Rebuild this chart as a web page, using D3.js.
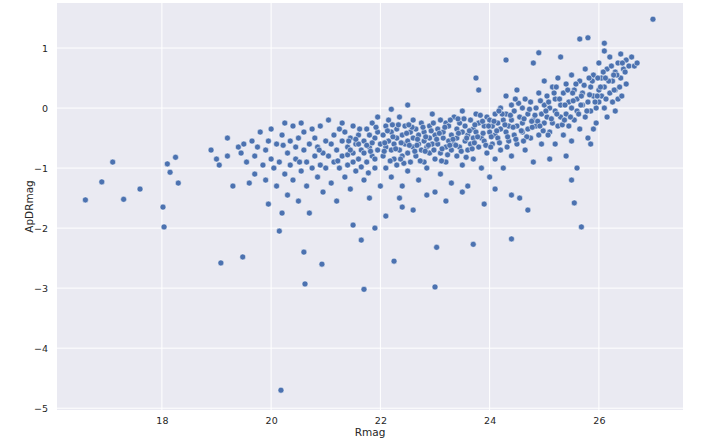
<!DOCTYPE html>
<html><head><meta charset="utf-8">
<script src="https://cdn.jsdelivr.net/npm/d3@7"></script>
<style>body{margin:0;background:#fff;font-family:"DejaVu Sans",sans-serif}</style>
</head><body><svg id="c" width="703" height="442"></svg>
<script>
const xTicks=[18,20,22,24,26];
const yTicks=[-5,-4,-3,-2,-1,0,1];
const outliers="16.6,-1.53 16.9,-1.23 17.1,-0.9 17.3,-1.52 17.6,-1.35 18.02,-1.65 18.04,-1.98 18.1,-0.93 18.15,-1.07 18.25,-0.82 18.3,-1.25 19.08,-2.58 19.48,-2.48 20.18,-4.7 20.6,-2.4 20.62,-2.93 20.93,-2.6 21.7,-3.02 22.25,-2.55 23.0,-2.98 23.03,-2.32 23.7,-2.27 24.4,-2.18 25.68,-1.98 25.55,-1.58 26.99,1.48 25.8,1.17 26.1,1.08";
const band1="18.9,-0.7 19.0,-0.85 19.05,-0.95 19.2,-0.5 19.2,-0.8 19.3,-1.3 19.4,-0.65 19.45,-0.75 19.5,-0.6 19.55,-0.9 19.6,-1.25 19.65,-0.55 19.7,-0.8 19.7,-1.1 19.75,-0.65 19.8,-0.4 19.85,-0.95 19.9,-1.2 19.9,-0.7 19.95,-1.6 19.95,-0.55 20.0,-0.35 20.0,-0.85 20.05,-1.0 20.1,-1.3 20.1,-0.6 20.15,-2.05 20.15,-0.9 20.2,-1.75 20.2,-0.45 20.25,-0.25 20.25,-1.1 20.3,-0.75 20.3,-1.45 20.35,-0.55 20.35,-0.95 20.4,-0.3 20.4,-1.2 20.45,-0.65 20.45,-0.85 20.5,-0.5 20.5,-1.55 20.55,-0.25 20.55,-1.05 20.6,-0.7 20.6,-0.4 20.65,-1.3 20.65,-0.9 20.7,-0.6 20.7,-1.75 20.75,-0.35 20.75,-1.0 20.8,-0.8 20.8,-0.5 20.85,-1.15 20.85,-0.65 20.9,-0.3 20.9,-0.95 20.95,-1.4 20.95,-0.75 21.0,-0.55 21.0,-1.0";
const band2="21.05,-0.2 21.05,-0.8 21.1,-0.6 21.1,-1.25 21.15,-0.45 21.15,-0.9 21.2,-0.7 21.2,-1.55 21.25,-0.35 21.25,-1.0 21.3,-0.55 21.3,-0.8 21.35,-1.15 21.35,-0.4 21.4,-0.65 21.4,-0.95 21.45,-0.5 21.45,-1.35 21.5,-0.75 21.5,-0.3 21.55,-0.6 21.55,-1.05 21.6,-0.85 21.6,-0.45 21.65,-0.7 21.65,-2.2 21.7,-0.55 21.7,-1.2 21.75,-0.9 21.75,-0.35 21.8,-0.65 21.8,-1.5 21.85,-0.8 21.85,-0.25 21.9,-0.5 21.9,-1.0 21.95,-0.7 21.95,-0.4 22.0,-0.6 22.0,-1.3 21.3,-0.25 21.5,-0.9 21.6,-0.6 21.7,-0.75 21.8,-0.45 21.9,-0.85 21.95,-0.15 21.4,-0.78 21.55,-0.52 21.75,-0.62 21.85,-0.58 21.65,-0.98 21.45,-0.7 21.92,-0.32 21.78,-1.08 21.5,-1.95 21.9,-2.0 22.1,-1.8 22.4,-1.65";
const band3="22.05,-0.45 22.05,-0.8 22.1,-0.3 22.1,-0.65 22.1,-1.0 22.15,-0.55 22.15,-0.2 22.2,-0.7 22.2,-0.4 22.2,-1.15 22.25,-0.6 22.25,-0.85 22.3,-0.35 22.3,-0.5 22.3,-0.95 22.35,-0.7 22.35,-0.15 22.4,-0.45 22.4,-0.8 22.4,-1.3 22.45,-0.6 22.45,-0.3 22.5,-0.55 22.5,-0.75 22.5,-1.05 22.55,-0.4 22.55,-0.9 22.6,-0.2 22.6,-0.65 22.6,-0.5 22.65,-0.8 22.65,-0.35 22.7,-0.6 22.7,-1.2 22.7,-0.45 22.75,-0.7 22.75,-0.25 22.8,-0.55 22.8,-0.9 22.8,-0.4 22.85,-0.65 22.85,-1.0 22.9,-0.3 22.9,-0.5 22.9,-0.75 22.95,-0.6 22.95,-0.1 23.0,-0.45 23.0,-0.85 23.0,-1.4 22.2,-0.02 22.5,0.05 22.35,-1.5 22.6,-1.7 22.85,-1.45";
const band4="23.05,-0.35 23.05,-0.6 23.1,-0.2 23.1,-0.75 23.1,-1.1 23.15,-0.5 23.15,-0.4 23.2,-0.65 23.2,-0.25 23.2,-0.9 23.25,-0.55 23.25,-0.3 23.3,-0.7 23.3,-0.45 23.3,-1.25 23.35,-0.6 23.35,-0.15 23.4,-0.35 23.4,-0.8 23.4,-0.5 23.45,-0.25 23.45,-0.65 23.5,-0.4 23.5,-0.95 23.5,-0.05 23.55,-0.55 23.55,-0.3 23.6,-0.7 23.6,-0.45 23.6,-1.3 23.65,-0.2 23.65,-0.6 23.7,-0.35 23.7,-0.85 23.7,-0.5 23.75,-0.1 23.75,-0.4 23.8,-0.65 23.8,-0.25 23.8,0.3 23.85,-0.5 23.85,-1.0 23.9,-0.3 23.9,-0.55 23.95,-0.15 23.95,-0.75 24.0,-0.4 24.0,-0.2 24.0,-1.15 23.2,-1.55 23.5,-1.4 23.9,-1.6 23.75,0.5";
const band5="24.05,-0.3 24.05,-0.6 24.1,-0.1 24.1,-0.45 24.1,-0.85 24.15,-0.25 24.15,-0.5 24.2,0.0 24.2,-0.35 24.2,-0.7 24.25,-0.2 24.25,-1.0 24.3,-0.4 24.3,-0.1 24.3,0.2 24.35,-0.55 24.35,-0.3 24.4,0.05 24.4,-0.2 24.4,-0.8 24.45,-0.45 24.45,-0.05 24.5,-0.3 24.5,-0.6 24.5,0.3 24.55,-0.15 24.55,-1.5 24.6,-0.4 24.6,0.0 24.6,-0.25 24.65,-0.7 24.65,0.15 24.7,-0.1 24.7,-0.35 24.75,-0.5 24.75,0.1 24.8,-0.2 24.8,-0.9 24.85,0.0 24.85,-0.3 24.9,-0.45 24.9,0.25 24.95,-0.1 24.95,-0.6 25.0,0.05 25.0,-0.25 25.0,0.45 24.3,0.8 24.8,0.75 24.9,0.92 24.7,-1.7 24.4,-1.45 24.1,-1.35";
const band6="25.05,-0.15 25.05,0.2 25.1,-0.4 25.1,0.0 25.15,-0.25 25.15,0.35 25.2,-0.05 25.2,-0.6 25.2,0.15 25.25,-0.3 25.25,0.5 25.3,0.05 25.3,-0.15 25.35,-0.45 25.35,0.25 25.4,-0.1 25.4,0.4 25.4,-0.8 25.45,0.1 25.45,-0.3 25.5,0.0 25.5,0.55 25.5,-0.55 25.55,-0.2 25.55,0.3 25.6,0.15 25.6,-0.05 25.6,-1.0 25.65,-0.35 25.65,0.45 25.7,0.05 25.7,0.25 25.75,-0.15 25.75,0.65 25.8,0.1 25.8,-0.5 25.85,0.35 25.85,-0.05 25.9,0.2 25.9,0.55 25.95,0.0 25.95,-0.25 26.0,0.3 26.0,0.75 26.0,0.1 25.3,0.85 25.65,1.15 25.5,-1.2 25.85,-0.6 25.1,-0.85";
const band7="26.05,0.2 26.05,0.5 26.1,0.0 26.1,0.35 26.15,0.65 26.15,-0.15 26.2,0.25 26.2,0.85 26.25,0.45 26.25,0.1 26.3,0.6 26.3,0.3 26.35,0.75 26.35,0.15 26.4,0.5 26.4,0.9 26.45,0.65 26.5,0.4 26.5,0.8 26.55,0.7 26.6,0.85 26.65,0.7 26.7,0.75 25.9,-0.35 26.1,0.95 26.3,-0.05";
const band8="22.08,-0.58 22.13,-0.38 22.18,-0.88 22.23,-0.48 22.28,-0.68 22.33,-0.28 22.38,-0.58 22.43,-0.92 22.48,-0.42 22.53,-0.62 22.58,-0.32 22.63,-0.72 22.68,-0.52 22.73,-0.88 22.78,-0.32 22.83,-0.48 22.88,-0.62 22.93,-0.38 22.98,-0.7 23.03,-0.52 23.08,-0.42 23.13,-0.68 23.18,-0.32 23.23,-0.78 23.28,-0.2 23.33,-0.52 23.38,-0.62 23.43,-0.42 23.48,-0.72 23.53,-0.18 23.58,-0.5 23.63,-0.38 23.68,-0.68 23.73,-0.28 23.78,-0.48 23.83,-0.12 23.88,-0.42 23.93,-0.62 23.98,-0.3 24.03,-0.48 24.08,-0.22 24.13,-0.38 24.18,-0.58 24.23,-0.1 24.28,-0.28 24.33,-0.48 24.38,-0.12 24.43,-0.32 24.48,-0.52 24.53,0.08 24.58,-0.38 24.63,-0.18 24.68,-0.48 24.73,-0.02 24.78,-0.32 24.83,-0.12 24.88,-0.22 24.93,0.12 24.98,-0.38 25.03,-0.05 25.08,0.1 25.13,-0.18 25.18,0.25 25.23,-0.1 25.28,0.15 25.33,-0.28 25.38,0.05 25.43,0.3 25.48,-0.15 25.53,0.12 25.58,0.4 25.63,-0.1 25.68,0.2 25.73,0.38 25.78,-0.05 25.83,0.22 25.88,0.45 25.93,0.1 25.98,0.5 26.03,0.35 26.08,0.6 26.13,0.15 26.18,0.45 26.23,0.7 26.28,0.3 26.33,0.55 26.38,0.35 26.43,0.75 26.48,0.6";
const band9="22.07,-0.72 22.22,-0.28 22.37,-0.85 22.52,-0.28 22.67,-0.62 22.82,-0.72 22.97,-0.25 23.12,-0.88 23.27,-0.62 23.42,-0.18 23.57,-0.82 23.72,-0.58 23.87,-0.22 24.02,-0.65 24.17,-0.05 24.32,-0.65 24.47,0.15 24.62,-0.55 24.77,-0.22 24.92,-0.3 25.07,-0.45 25.22,0.35 25.37,-0.2 25.52,0.25 25.67,0.05 25.82,0.5 25.97,0.2 26.12,0.5 26.27,0.55 26.42,0.2 21.62,-0.35 21.82,-0.72 21.42,-0.55 21.22,-0.88 20.88,-0.7 20.52,-0.9 20.22,-0.62";

const parse=s=>s.trim().split(/\s+/).map(p=>p.split(",").map(Number));
const pts=[outliers,band1,band2,band3,band4,band5,band6,band7,band8,band9].flatMap(parse);

const svg=d3.select("#c");
const L=57,R=683,T=3,B=410;
const x=d3.scaleLinear().domain([16.08,27.54]).range([L,R]);
const y=d3.scaleLinear().domain([-5.03,1.75]).range([B,T]);
svg.append("rect").attr("x",L).attr("y",T).attr("width",R-L).attr("height",B-T).attr("fill","#eaeaf2");
const gx=svg.append("g").attr("transform",`translate(0,${B})`).call(d3.axisBottom(x).tickValues(xTicks).tickSize(0).tickPadding(7));
const gy=svg.append("g").attr("transform",`translate(${L},0)`).call(d3.axisLeft(y).tickValues(yTicks).tickSize(0).tickPadding(9).tickFormat(d=>d<0?"\u2212"+(-d):d));
[gx,gy].forEach(g=>{g.select(".domain").remove();g.selectAll("text").attr("fill","#262626").style("font-size","9.5px").style("font-family","DejaVu Sans");});
svg.append("g").selectAll("line").data(xTicks).join("line").attr("x1",d=>x(d)).attr("x2",d=>x(d)).attr("y1",T).attr("y2",B).attr("stroke","#fff").attr("stroke-width",1);
svg.append("g").selectAll("line").data(yTicks).join("line").attr("y1",d=>y(d)).attr("y2",d=>y(d)).attr("x1",L).attr("x2",R).attr("stroke","#fff").attr("stroke-width",1);
svg.append("g").selectAll("circle").data(pts).join("circle").attr("cx",d=>x(d[0])).attr("cy",d=>y(d[1])).attr("r",3).attr("fill","#4c72b0").attr("stroke","#fff").attr("stroke-width",0.5);
svg.append("text").attr("x",(L+R)/2).attr("y",436).attr("text-anchor","middle").attr("fill","#262626").style("font-size","10.5px").text("Rmag");
svg.append("text").attr("transform",`translate(33,${(T+B)/2}) rotate(-90)`).attr("text-anchor","middle").attr("fill","#262626").style("font-size","10.5px").text("ApDRmag");
</script></body></html>
